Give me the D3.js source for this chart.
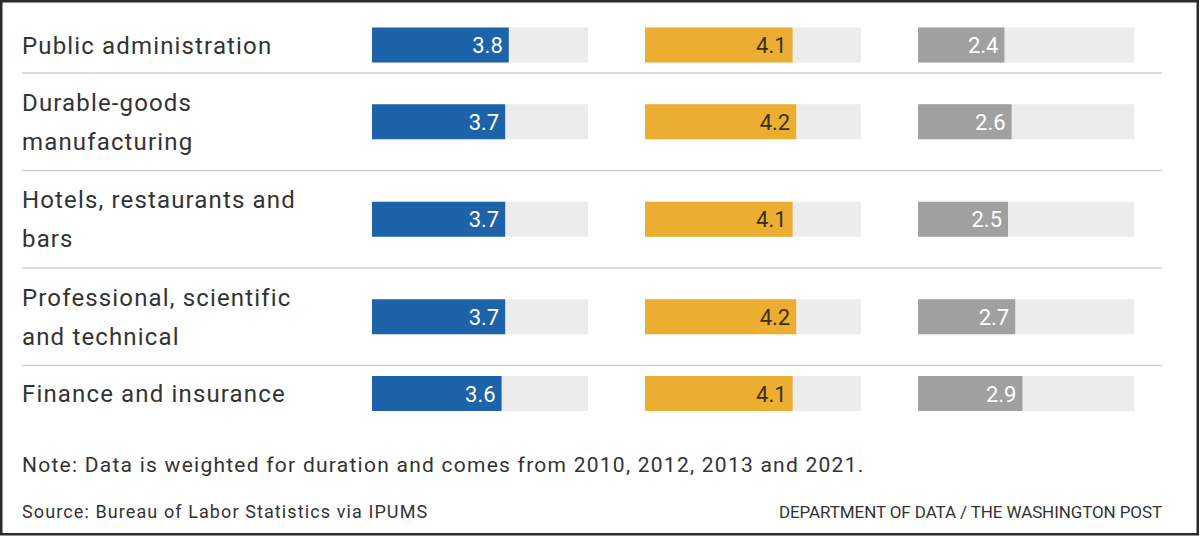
<!DOCTYPE html>
<html>
<head>
<meta charset="utf-8">
<script src="https://cdn.jsdelivr.net/npm/d3@7"></script>
<style>
  body { margin: 0; background: #fff; }
  svg { display: block; font-family: Roboto, "Noto Sans", sans-serif; }
  .label { font-size: 24px; fill: #333; letter-spacing: 1.15px; }
  .value { font-size: 22px; }
</style>
</head>
<body>
<div id="chart"></div>
<script>
// --------------------------------------
//  Data
// --------------------------------------

const industries = [
  ["Public administration"],
  ["Durable-goods", "manufacturing"],
  ["Hotels, restaurants and", "bars"],
  ["Professional, scientific", "and technical"],
  ["Finance and insurance"]
];
const series = ["blue", "yellow", "gray"];
const blueValues = [3.8, 3.7, 3.7, 3.7, 3.6];
const yellowValues = [4.1, 4.2, 4.1, 4.2, 4.1];
const grayValues = [2.4, 2.6, 2.5, 2.7, 2.9];
const maxValue = 6;

const noteText = "Note: Data is weighted for duration and comes from 2010, 2012, 2013 and 2021.";
const sourceText = "Source: Bureau of Labor Statistics via IPUMS";
const creditText = "DEPARTMENT OF DATA / THE WASHINGTON POST";

// --------------------------------------
//  Canvas
// --------------------------------------

const width = 1200;
const height = 537;

const svg = d3.select("#chart")
  .append("svg")
    .attr("width", width)
    .attr("height", height)
    .attr("viewBox", `0, 0, ${width}, ${height}`);

svg.append("rect")
  .attr("x", 1.25)
  .attr("y", 1.25)
  .attr("width", width - 3.5)
  .attr("height", height - 4)
  .attr("fill", "#fff")
  .attr("stroke", "#2b2b2b")
  .attr("stroke-width", 2.5);

// --------------------------------------
//  Row layout (rows grow with label lines)
// --------------------------------------

const rowTop = 17;
const singleRow = 56;
const lineStep = 39;
const lineHeight = 41.5;

let acc = rowTop;
const rows = industries.map((lines, i) => {
  const h = singleRow + (lines.length - 1) * lineHeight;
  const r = {lines, top: acc, h, center: acc + h / 2,
    values: [blueValues[i], yellowValues[i], grayValues[i]]};
  acc += h;
  return r;
});

// --------------------------------------
//  Scales
// --------------------------------------

const colScale = d3.scaleBand()
  .domain(series)
  .range([372, 1134])
  .paddingInner(0.209);

const x = d3.scaleLinear()
  .domain([0, maxValue])
  .range([0, colScale.bandwidth()]);

const fills = {blue: "#1c63a9", yellow: "#ecae30", gray: "#a0a0a0"};
const textFills = {blue: "#fff", yellow: "#3a2e18", gray: "#fff"};
const barH = 35;

// --------------------------------------
//  Rows
// --------------------------------------

const rowG = svg.selectAll("g.row")
  .data(rows)
  .join("g")
    .attr("class", "row")
    .attr("transform", d => `translate(0, ${d.center})`);

rowG.filter((d, i) => i < rows.length - 1)
  .append("line")
    .attr("x1", 22)
    .attr("x2", 1162)
    .attr("y1", d => d.h / 2)
    .attr("y2", d => d.h / 2)
    .attr("stroke", "#cfcfcf")
    .attr("stroke-width", 1.5);

rowG.append("text")
  .attr("class", "label")
  .selectAll("tspan")
  .data(d => d.lines.map((t, j) => ({t, j, n: d.lines.length})))
  .join("tspan")
    .attr("x", 22)
    .attr("y", d => 8.5 - (d.n - 1) * lineStep / 2 + d.j * lineStep)
    .text(d => d.t);

const cell = rowG.selectAll("g.cell")
  .data(d => d.values.map((v, k) => ({v, s: series[k]})))
  .join("g")
    .attr("class", "cell")
    .attr("transform", d => `translate(${colScale(d.s)}, 0)`);

cell.append("rect")
  .attr("x", 0)
  .attr("y", -barH / 2)
  .attr("width", x(maxValue))
  .attr("height", barH)
  .attr("fill", "#ececec");

cell.append("rect")
  .attr("x", 0)
  .attr("y", -barH / 2)
  .attr("width", d => x(d.v))
  .attr("height", barH)
  .attr("fill", d => fills[d.s]);

cell.append("text")
  .attr("class", "value")
  .attr("x", d => x(d.v) - 6)
  .attr("y", 8)
  .attr("text-anchor", "end")
  .attr("fill", d => textFills[d.s])
  .text(d => d3.format(".1f")(d.v));

// --------------------------------------
//  Notes
// --------------------------------------

svg.append("text")
  .attr("x", 22)
  .attr("y", 472)
  .attr("font-size", 21)
  .attr("letter-spacing", 1.25)
  .attr("fill", "#333")
  .text(noteText);

svg.append("text")
  .attr("x", 22)
  .attr("y", 518)
  .attr("font-size", 18)
  .attr("letter-spacing", 1.1)
  .attr("fill", "#333")
  .text(sourceText);

svg.append("text")
  .attr("x", 1162)
  .attr("y", 518)
  .attr("font-size", 17)
  .attr("letter-spacing", -0.1)
  .attr("text-anchor", "end")
  .attr("fill", "#333")
  .text(creditText);
</script>
</body>
</html>
